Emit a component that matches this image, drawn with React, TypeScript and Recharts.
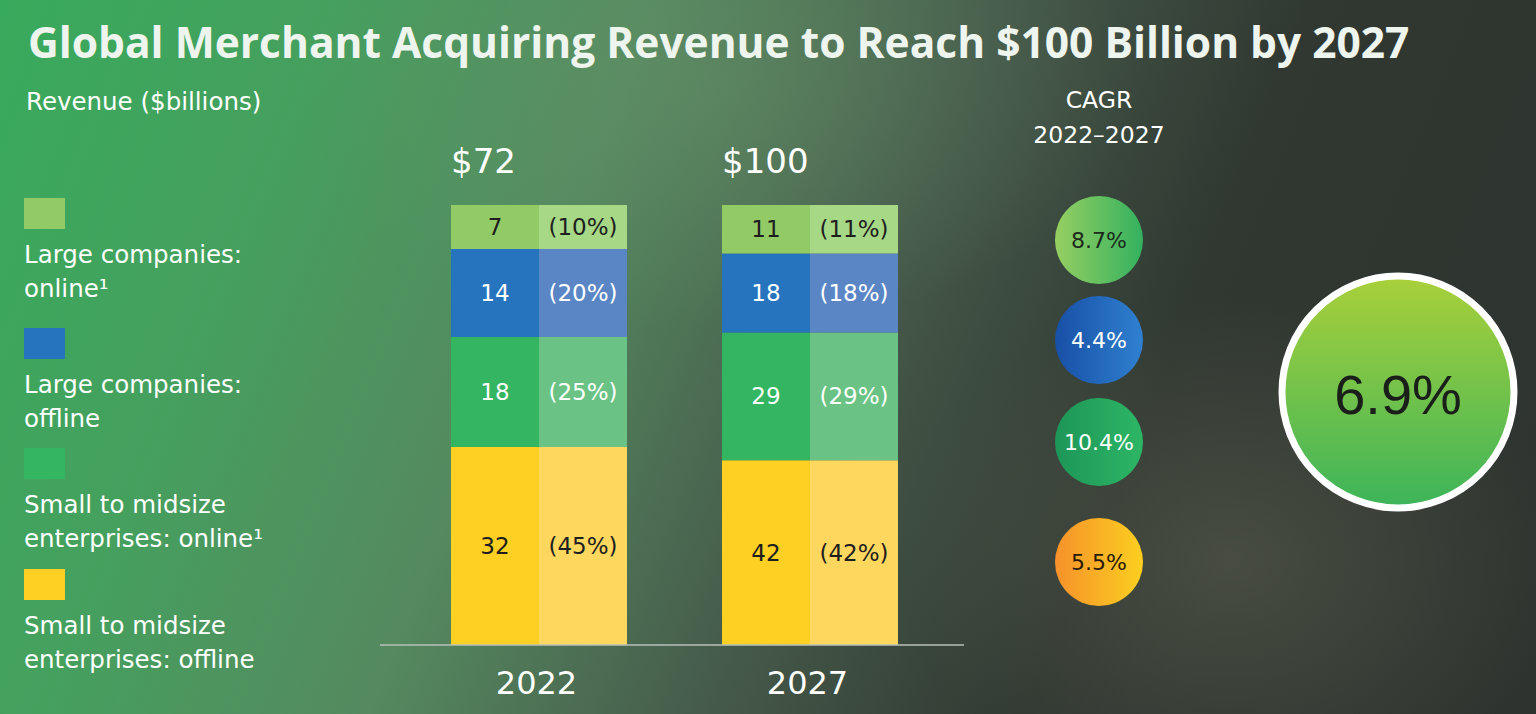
import React from 'react';
import { BarChart, Bar, XAxis, YAxis, LabelList } from 'recharts';

const categories = ['2022', '2027'];
const totals = [72, 100];
// revenue ($B)
const lcOnline = [7, 11];
const lcOffline = [14, 18];
const smeOnline = [18, 29];
const smeOffline = [32, 42];
// share of total (%)
const lcOnlineShare = [10, 11];
const lcOfflineShare = [20, 18];
const smeOnlineShare = [25, 29];
const smeOfflineShare = [45, 42];
// CAGR 2022–2027 (%)
const cagrLabels = ['8.7%', '4.4%', '10.4%', '5.5%'];
const cagrTotal = '6.9%';

const legendLabels = [
  ['Large companies:', 'online\u00B9'],
  ['Large companies:', 'offline'],
  ['Small to midsize', 'enterprises: online\u00B9'],
  ['Small to midsize', 'enterprises: offline'],
];
const legendColors = ['#92cb66', '#2574bd', '#33b561', '#fdd023'];

const data = categories.map((c, i) => ({
  year: c,
  smeOffA: smeOfflineShare[i],
  smeOnA: smeOnlineShare[i],
  lcOffA: lcOfflineShare[i],
  lcOnA: lcOnlineShare[i],
  smeOffB: smeOfflineShare[i],
  smeOnB: smeOnlineShare[i],
  lcOffB: lcOfflineShare[i],
  lcOnB: lcOnlineShare[i],
}));

const FONT = "'DejaVu Sans', 'Noto Sans', sans-serif";
const TITLE_FONT = "'Open Sans', 'Noto Sans', sans-serif";

const makeLabel = (values: number[], color: string, pct: boolean) => (props: any) => {
  const { x, y, width, height, index } = props;
  const v = values[index];
  return (
    <text
      x={Number(x) + Number(width) / 2}
      y={Number(y) + Number(height) / 2}
      textAnchor="middle"
      dominantBaseline="central"
      fill={color}
      fontSize={23}
      fontFamily={FONT}
    >
      {pct ? `(${v}%)` : `${v}`}
    </text>
  );
};

const renderTotal = (props: any) => {
  const { x, y, index } = props;
  return (
    <text x={Number(x)} y={Number(y) - 32} fill="#ffffff" fontSize={34} fontFamily={FONT}>
      {`$${totals[index]}`}
    </text>
  );
};

const YearTick = (props: any) => {
  const { x, y, payload } = props;
  return (
    <text x={x - 2} y={y + 41} textAnchor="middle" fill="#ffffff" fontSize={32} fontFamily={FONT}>
      {payload.value}
    </text>
  );
};

const smallCircles = [
  { cy: 240, grad: 'g87', text: '#1c2a1c' },
  { cy: 340, grad: 'g44', text: '#ffffff' },
  { cy: 442, grad: 'g104', text: '#ffffff' },
  { cy: 562, grad: 'g55', text: '#2a1a0a' },
];

export default function App() {
  return (
    <div
      style={{
        position: 'absolute',
        top: 0,
        left: 0,
        width: 1536,
        height: 714,
        overflow: 'hidden',
        fontFamily: FONT,
        background:
          'radial-gradient(ellipse 330px 260px at 1230px 560px, rgba(92,94,80,0.55), rgba(92,94,80,0) 100%),' +
          'radial-gradient(ellipse 420px 240px at 720px 90px, rgba(110,150,110,0.35), rgba(110,150,110,0) 100%),' +
          'linear-gradient(112deg, #38aa5c 0%, #45a05e 18%, #55895f 36%, #45594a 55%, #303831 72%, #2e332f 100%)',
      }}
    >
      <div
        style={{
          position: 'absolute',
          left: 28,
          top: 13,
          fontSize: 42.5,
          fontWeight: 700,
          fontFamily: TITLE_FONT,
          color: '#eef4ee',
          whiteSpace: 'nowrap',
        }}
      >
        Global Merchant Acquiring Revenue to Reach $100 Billion by 2027
      </div>
      <div style={{ position: 'absolute', left: 26, top: 87, fontSize: 24.5, color: '#ffffff', whiteSpace: 'nowrap' }}>
        Revenue ($billions)
      </div>

      {legendLabels.map((lines, i) => {
        const tops = [198, 328, 448, 569];
        return (
          <div key={i} style={{ position: 'absolute', left: 24, top: tops[i] }}>
            <div style={{ width: 41, height: 31, background: legendColors[i] }} />
            <div style={{ marginTop: 9, fontSize: 24.5, lineHeight: '34px', color: '#ffffff', whiteSpace: 'nowrap' }}>
              {lines[0]}
              <br />
              {lines[1]}
            </div>
          </div>
        );
      })}

      <div
        style={{
          position: 'absolute',
          left: 1000,
          width: 198,
          top: 83,
          textAlign: 'center',
          fontSize: 23.5,
          lineHeight: '35px',
          color: '#ffffff',
        }}
      >
        CAGR
        <br />
        2022–2027
      </div>

      <div style={{ position: 'absolute', left: 0, top: 0 }}>
        <BarChart
          width={1536}
          height={714}
          data={data}
          margin={{ top: 205, right: 572, bottom: 19, left: 380 }}
          barGap={0}
          barSize={88}
        >
          <XAxis
            dataKey="year"
            height={50}
            tickLine={false}
            axisLine={{ stroke: '#b9c0b9', strokeWidth: 1.5 }}
            tick={<YearTick />}
            padding={{ left: 23, right: 19 }}
          />
          <YAxis hide domain={[0, 100]} />
          <Bar dataKey="smeOffA" stackId="a" fill="#fdd023" isAnimationActive={false}>
            <LabelList content={makeLabel(smeOffline, '#1e1e1e', false)} />
          </Bar>
          <Bar dataKey="smeOnA" stackId="a" fill="#33b561" isAnimationActive={false}>
            <LabelList content={makeLabel(smeOnline, '#ffffff', false)} />
          </Bar>
          <Bar dataKey="lcOffA" stackId="a" fill="#2574bd" isAnimationActive={false}>
            <LabelList content={makeLabel(lcOffline, '#ffffff', false)} />
          </Bar>
          <Bar dataKey="lcOnA" stackId="a" fill="#92cb66" isAnimationActive={false}>
            <LabelList content={makeLabel(lcOnline, '#1e1e1e', false)} />
            <LabelList content={renderTotal} />
          </Bar>
          <Bar dataKey="smeOffB" stackId="b" fill="#fed75f" isAnimationActive={false}>
            <LabelList content={makeLabel(smeOfflineShare, '#1e1e1e', true)} />
          </Bar>
          <Bar dataKey="smeOnB" stackId="b" fill="#6ac384" isAnimationActive={false}>
            <LabelList content={makeLabel(smeOnlineShare, '#ffffff', true)} />
          </Bar>
          <Bar dataKey="lcOffB" stackId="b" fill="#5b86c6" isAnimationActive={false}>
            <LabelList content={makeLabel(lcOfflineShare, '#ffffff', true)} />
          </Bar>
          <Bar dataKey="lcOnB" stackId="b" fill="#a7d886" isAnimationActive={false}>
            <LabelList content={makeLabel(lcOnlineShare, '#1e1e1e', true)} />
          </Bar>
        </BarChart>
      </div>

      <svg width={1536} height={714} style={{ position: 'absolute', left: 0, top: 0, pointerEvents: 'none' }}>
        <defs>
          <linearGradient id="g87" x1="0" x2="1" y1="0" y2="0">
            <stop offset="0%" stopColor="#96cf62" />
            <stop offset="100%" stopColor="#33b15f" />
          </linearGradient>
          <linearGradient id="g44" x1="0" x2="1" y1="0" y2="0">
            <stop offset="0%" stopColor="#1850a6" />
            <stop offset="100%" stopColor="#2f80d0" />
          </linearGradient>
          <linearGradient id="g104" x1="0" x2="1" y1="0" y2="0">
            <stop offset="0%" stopColor="#1d9658" />
            <stop offset="100%" stopColor="#2db665" />
          </linearGradient>
          <linearGradient id="g55" x1="0" x2="1" y1="0" y2="0">
            <stop offset="0%" stopColor="#f6922b" />
            <stop offset="100%" stopColor="#fccf20" />
          </linearGradient>
          <linearGradient id="gBig" x1="0" x2="0" y1="0" y2="1">
            <stop offset="0%" stopColor="#a9d03a" />
            <stop offset="100%" stopColor="#3cb45a" />
          </linearGradient>
        </defs>
        {smallCircles.map((c, i) => (
          <g key={i}>
            <circle cx={1099} cy={c.cy} r={44} fill={`url(#${c.grad})`} />
            <text
              x={1099}
              y={c.cy}
              textAnchor="middle"
              dominantBaseline="central"
              fontSize={22}
              fontFamily={FONT}
              fill={c.text}
            >
              {cagrLabels[i]}
            </text>
          </g>
        ))}
        <circle cx={1398} cy={392} r={116} fill="url(#gBig)" stroke="#ffffff" strokeWidth={7} />
        <text
          x={1398}
          y={394}
          textAnchor="middle"
          dominantBaseline="central"
          fontSize={56}
          fontFamily="'Liberation Sans', Arial, sans-serif"
          fill="#1b1f1a"
        >
          {cagrTotal}
        </text>
      </svg>
    </div>
  );
}
